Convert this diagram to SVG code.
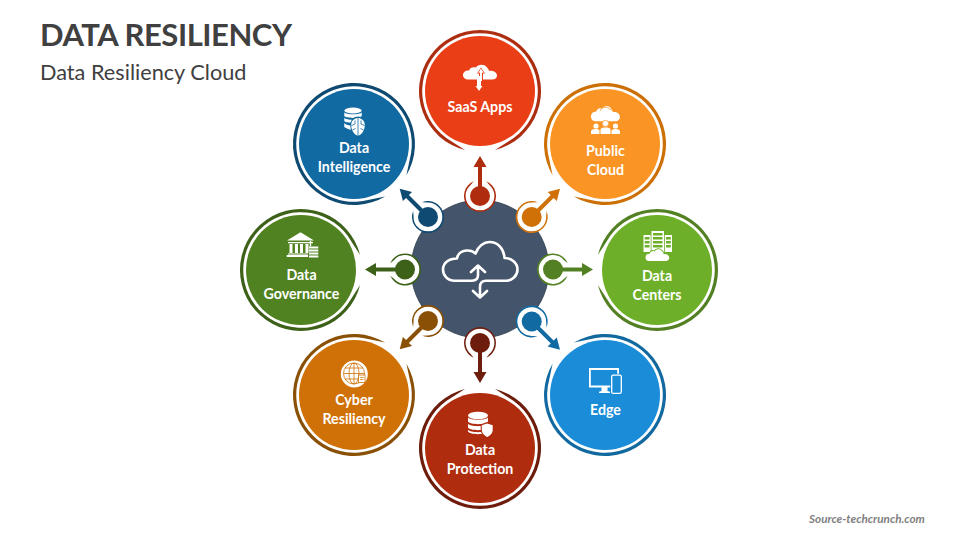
<svg xmlns="http://www.w3.org/2000/svg" xmlns:xlink="http://www.w3.org/1999/xlink" width="960" height="540" viewBox="0 0 960 540">
<style>
text{font-family:"Lato","Open Sans","Liberation Sans",sans-serif}
.title{font-size:31px;font-weight:700;fill:#404040}
.sub{font-size:21.700px;fill:#404040}
.src{font-size:11.700px;font-weight:700;font-style:italic;fill:#7f7f7f}
.lab{font-size:14.200px;font-weight:700;fill:#fff;text-anchor:middle}
.w{fill:#fff}
.cl{fill:none;stroke:#fff;stroke-width:2.600;stroke-linecap:round;stroke-linejoin:round}
</style>
<defs>
<path id="ring" d="M-15,59.100A61,61 0 1 1 15,59.100L28.700,50.200A57.800,57.800 0 1 0 -28.700,50.200Z"/>
<path id="cloud" d="M5,15C1.500,15 0,12.500 0,10.500C0,7.500 3,5.500 6,6C7,3 10,2 13,3C15,0 21,-1 24,3C25.500,4.500 26,5.500 26,6.500C30,5.500 34,8 34,11C34,13.500 32,15 29,15Z"/>
<g id="spoke">
<circle r="14.800" fill="#fff"/>
<path d="M-6.300,-14.700A16,16 0 1 0 6.300,-14.700L9.600,-10.800A14.400,14.400 0 1 1 -9.600,-10.800Z"/>
<path d="M-2,0V-29H-6.500L0,-40L6.500,-29H2V0Z"/>
<circle r="10"/>
</g>
</defs>

<g id="heading">
<text class="title" x="40" y="45.500" textLength="252" lengthAdjust="spacing">DATA RESILIENCY</text>
<text class="sub" x="40" y="80">Data Resiliency Cloud</text>
</g>

<g id="hub">
<circle cx="480" cy="269" r="69" fill="#44546a" stroke="#323e4e" stroke-width="0.800"/>
<path class="cl" d="M472,280.700H454.500C447,280.700 443,275 443,269.500C443,263 449,258.500 457,258.500C457.500,253 463,250 468,250.500C471,250.700 474,252 475.500,253.500C478,246 484,242 489.500,242C498,242 504,249 504.500,258C512,258 517.500,263.500 517.500,269.500C517.500,276 512,280.700 506,280.700H486Q480,280.700 480,287V297M472,280.700Q478,280.700 478,275V266M471,272L478,265.500L485,272M473,291L480,297.500L487,291"/>
</g>

<g id="connectors">
<use xlink:href="#spoke" href="#spoke" transform="translate(480 196)" fill="#af2c0f"/>
<use xlink:href="#spoke" href="#spoke" transform="translate(531.700 217) rotate(45)" fill="#cf7106"/>
<use xlink:href="#spoke" href="#spoke" transform="translate(553 269.500) rotate(90)" fill="#528023"/>
<use xlink:href="#spoke" href="#spoke" transform="translate(531.700 321.500) rotate(135)" fill="#126aa2"/>
<use xlink:href="#spoke" href="#spoke" transform="translate(480 343) rotate(180)" fill="#6e1c0b"/>
<use xlink:href="#spoke" href="#spoke" transform="translate(428 321) rotate(225)" fill="#8a5005"/>
<use xlink:href="#spoke" href="#spoke" transform="translate(405 269.500) rotate(270)" fill="#3d6119"/>
<use xlink:href="#spoke" href="#spoke" transform="translate(428 217) rotate(315)" fill="#0f4a72"/>
</g>

<g id="saas-apps">
<circle cx="480" cy="91" r="55" fill="#ea3e16"/>
<use xlink:href="#ring" href="#ring" transform="translate(480 91)" fill="#ad2d10"/>
<use xlink:href="#cloud" href="#cloud" transform="translate(463 64.500)" class="w"/>
<path d="M481,67.500L477,73.500H479V83H483V73.500H485Z" fill="#ea3e16"/>
<path d="M481,68.500L478.300,72.700H480V81H482V72.700H483.700Z" class="w"/>
<path d="M477,76H481V86H482.500L479,91L475.500,86H477Z" class="w"/>
<text class="lab" x="480" y="111.700">SaaS Apps</text>
</g>

<g id="public-cloud">
<circle cx="605" cy="144" r="55" fill="#fa9424"/>
<use xlink:href="#ring" href="#ring" transform="translate(605 144) rotate(45)" fill="#cc7006"/>
<use xlink:href="#cloud" href="#cloud" transform="translate(591 105.500) scale(.85 1.050)" class="w"/>
<path d="M600,111C601,107.500 606,106 609,108.500M609,109C611,109 613,110.500 613.500,112" fill="none" stroke="#fa9424" stroke-width=".8"/>
<circle cx="596" cy="126" r="2.600" class="w"/>
<circle cx="605.500" cy="123.500" r="3.200" class="w" stroke="#fa9424" stroke-width=".8"/>
<circle cx="615.500" cy="126" r="2.600" class="w"/>
<path d="M591,134V131.500C591,129.800 593,129 596,129C598,129 599,129.500 599.500,130.500V134ZM600.500,134V130C600.500,128 603,127.500 605.500,127.500C608,127.500 610.500,128 610.500,130V134ZM611.500,134V130.500C612,129.500 613.500,129 615.500,129C618,129 620,129.800 620,131.500V134Z" class="w"/>
<text class="lab" x="605.500" y="156">Public</text>
<text class="lab" x="605.500" y="175">Cloud</text>
</g>

<g id="data-centers">
<circle cx="657" cy="270" r="55" fill="#6eaf29"/>
<use xlink:href="#ring" href="#ring" transform="translate(657 270) rotate(90)" fill="#528023"/>
<path class="w" fill-rule="evenodd" d="M643.500,235H650.700V252H643.500ZM644.700,237V239.500H649.500V237ZM644.700,241V243.500H649.500V241ZM644.700,245V247.500H649.500V245Z"/>
<path class="w" fill-rule="evenodd" d="M651.500,231H664V252H651.500ZM653,233V235.500H662.500V233ZM653,237V239.500H662.500V237ZM653,241V243.500H662.500V241ZM653,245V247.500H662.500V245Z"/>
<path class="w" fill-rule="evenodd" d="M664.800,235H672V252H664.800ZM666,237V239.500H670.800V237ZM666,241V243.500H670.800V241ZM666,245V247.500H670.800V245Z"/>
<use xlink:href="#cloud" href="#cloud" transform="translate(645.500 249) scale(.7 .8)" fill="#6eaf29" stroke="#6eaf29" stroke-width="2.500"/>
<use xlink:href="#cloud" href="#cloud" transform="translate(645.500 249) scale(.7 .8)" class="w"/>
<text class="lab" x="657" y="281">Data</text>
<text class="lab" x="657" y="300">Centers</text>
</g>

<g id="edge">
<circle cx="605" cy="395" r="55" fill="#1a8cd8"/>
<use xlink:href="#ring" href="#ring" transform="translate(605 395) rotate(135)" fill="#12699f"/>
<path class="w" fill-rule="evenodd" d="M589,368H619V387.500H607.500V391L610,391.800V393H599V391.800L601.500,391V387.500H589ZM590.800,370V385.500H617.200V370Z"/>
<rect x="611" y="374.500" width="11" height="19.500" rx="1.800" fill="#1a8cd8" stroke="#1a8cd8" stroke-width="1.500"/>
<rect x="611.700" y="375.200" width="9.600" height="18.200" rx="1.500" fill="#1a8cd8" stroke="#fff" stroke-width="1.300"/>
<text class="lab" x="605.500" y="415">Edge</text>
</g>

<g id="data-protection">
<circle cx="480" cy="448" r="55" fill="#af2c0f"/>
<use xlink:href="#ring" href="#ring" transform="translate(480 448) rotate(180)" fill="#6e1c0b"/>
<ellipse cx="478" cy="415.500" rx="10" ry="3.800" class="w"/>
<path class="w" d="M468,417.500C470,420.500 486,420.500 488,417.500V421.500C486,425 470,425 468,421.500ZM468,423.800C470,427 486,427 488,423.800V427.500C486,431 470,431 468,427.500ZM468,429.800C470,433 486,433 488,429.800V431.500C486,435 470,435 468,431.500Z"/>
<path d="M487.200,422L493.800,424.500V430C493.800,433.500 490.500,436.800 487.200,438C484,436.800 480.700,433.500 480.700,430V424.500Z" fill="#af2c0f"/>
<path class="w" d="M487.200,423.500L492.700,425.300V430C492.700,433 490,435.800 487.200,437C484.500,435.800 481.800,433 481.800,430V425.300Z"/>
<text class="lab" x="480" y="455">Data</text>
<text class="lab" x="480" y="474">Protection</text>
</g>

<g id="cyber-resiliency">
<circle cx="354" cy="395" r="55" fill="#cf7106"/>
<use xlink:href="#ring" href="#ring" transform="translate(354 395) rotate(225)" fill="#8a5005"/>
<circle cx="354.300" cy="374" r="13.500" class="w"/>
<g fill="none" stroke="#cf7106" stroke-width=".8">
<circle cx="354" cy="373.500" r="10.500"/>
<ellipse cx="354" cy="373.500" rx="5" ry="10.500"/>
<path d="M354,363V384M343.500,373.500H364.500M345,368H363M345,379H363"/>
</g>
<rect x="358.500" y="375" width="6.500" height="7.500" fill="#fff" stroke="#cf7106" stroke-width=".8"/>
<path d="M360,377.500H363.500M360,379.500H363.500" stroke="#cf7106" stroke-width=".7"/>
<text class="lab" x="354" y="405">Cyber</text>
<text class="lab" x="354" y="424">Resiliency</text>
</g>

<g id="data-governance">
<circle cx="301" cy="270" r="55" fill="#518221"/>
<use xlink:href="#ring" href="#ring" transform="translate(301 270) rotate(270)" fill="#3d6119"/>
<path class="w" d="M300.500,232.300L314,240.500H287ZM288,242H313V243.300H288ZM289.500,244H292.500V253H289.500ZM295,244H298V253H295ZM300,244H303V253H300ZM305.500,244H308.500V253H305.500ZM288,253.500H308V254.500H288ZM286.700,255H308V257H286.700Z"/>
<path d="M310.500,241V246.500" stroke="#fff" stroke-width="1.400"/>
<path class="w" d="M309,246.500H318.300V248.500H309ZM309,249.500H318.300V251.500H309ZM309,252.500H318.300V254.500H309ZM309,255.500H318.300V257.500H309Z"/>
<text class="lab" x="301.500" y="280">Data</text>
<text class="lab" x="301.500" y="299">Governance</text>
</g>

<g id="data-intelligence">
<circle cx="354" cy="144" r="55" fill="#126aa2"/>
<use xlink:href="#ring" href="#ring" transform="translate(354 144) rotate(315)" fill="#0f4a72"/>
<ellipse cx="353" cy="110.500" rx="8.700" ry="3" class="w"/>
<path class="w" d="M344.300,112.300C346,115 360,115 361.700,112.300V116C360,118.500 346,118.500 344.300,116ZM344.300,117.800C346,120.500 360,120.500 361.700,117.800V121C360,123.500 346,123.500 344.300,121ZM344.300,123C346,125.500 352,125.800 353,125.800V130C350,130 346,128.500 344.300,127Z"/>
<path d="M358,116.500C362,116.500 366,120 366,124C367,129 363,136.500 358,136.500C353,136.500 349.500,129 350.500,124C350.500,120 354,116.500 358,116.500Z" fill="#126aa2"/>
<path class="w" d="M358,118C361,118 364.500,120.500 364.700,124C365.500,128.500 362,135.500 358,135.500C354,135.500 350.500,128.500 351.300,124C351.500,120.500 355,118 358,118Z"/>
<path d="M358,118V135.500M351.500,125.500L355,124L355,120.500M364.500,125.500L361,124L361,120.500M352.500,130L355.500,128.500M363.500,130L360.500,128.500" fill="none" stroke="#126aa2" stroke-width=".8"/>
<text class="lab" x="354" y="153">Data</text>
<text class="lab" x="354" y="172">Intelligence</text>
</g>

<g id="source">
<text class="src" x="809" y="522.700">Source-techcrunch.com</text>
</g>
</svg>
